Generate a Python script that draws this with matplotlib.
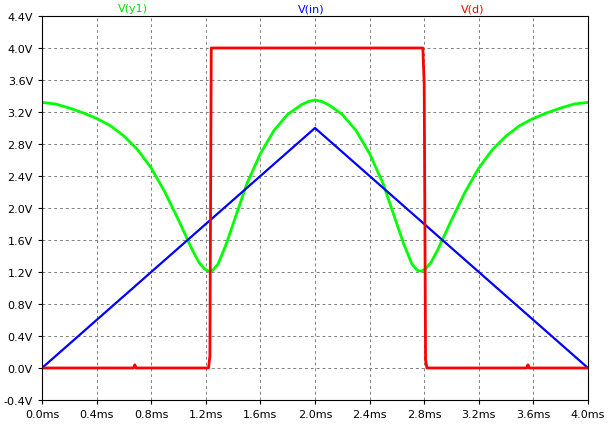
import matplotlib.pyplot as plt
import numpy as np

# time in ms, values in V
t_in = [0.0, 2.0, 4.0]
v_in = [0.0, 3.0, 0.0]

t_d = [0.0, 0.67, 0.68, 0.69, 1.22, 1.23, 1.24, 2.79, 2.80, 2.81, 2.82, 3.55, 3.56, 3.57, 4.0]
v_d = [0.0, 0.0, 0.04, 0.0, 0.0, 0.15, 4.0, 4.0, 3.55, 0.1, 0.0, 0.0, 0.04, 0.0, 0.0]

t_y1 = [0.0, 0.1, 0.2, 0.3, 0.4, 0.5, 0.6, 0.7, 0.8, 0.9, 1.0, 1.1, 1.15, 1.19, 1.22, 1.25, 1.29, 1.35,
        1.4, 1.5, 1.6, 1.7, 1.8, 1.9, 1.95, 2.0,
        2.05, 2.1, 2.2, 2.3, 2.4, 2.5, 2.6, 2.65, 2.71, 2.75, 2.78, 2.81, 2.85, 2.9, 3.0, 3.1, 3.2,
        3.3, 3.4, 3.5, 3.6, 3.7, 3.8, 3.9, 4.0]
v_y1 = [3.32, 3.30, 3.25, 3.19, 3.12, 3.03, 2.9, 2.73, 2.5, 2.2, 1.85, 1.48, 1.32, 1.24, 1.21, 1.22, 1.3, 1.55,
        1.8, 2.3, 2.68, 2.97, 3.17, 3.29, 3.33, 3.35,
        3.33, 3.29, 3.17, 2.97, 2.68, 2.3, 1.8, 1.55, 1.3, 1.22, 1.21, 1.24, 1.32, 1.48, 1.85, 2.2, 2.5,
        2.73, 2.9, 3.03, 3.12, 3.19, 3.25, 3.30, 3.32]

fig = plt.figure(figsize=(6.10, 4.27), dpi=100)
ax = fig.add_axes([42/610, 1-401/427, 546/610, 384/427])

ax.plot(t_y1, v_y1, color='#00ff00', lw=2)
ax.plot(t_in, v_in, color='#0000ff', lw=1.6)
ax.plot(t_d, v_d, color='#ff0000', lw=2)

ax.set_xlim(0, 4)
ax.set_ylim(-0.4, 4.4)
xt = np.arange(0, 4.01, 0.4)
yt = np.arange(-0.4, 4.41, 0.4)
ax.set_xticks(xt)
ax.set_yticks(yt)
ax.set_xticklabels([f"{x:.1f}ms" for x in xt], fontsize=8)
ax.set_yticklabels([f"{y:.1f}V" for y in yt], fontsize=8)
ax.grid(True, color='#808080', ls=(0, (3, 3)), lw=0.7)
ax.tick_params(direction='out', length=3)
for s in ax.spines.values():
    s.set_color('black')

fig.text(133/610, 1-9/427, "V(y1)", color='#00dd00', ha='center', va='center', fontsize=8)
fig.text(311/610, 1-9/427, "V(in)", color='#0000ff', ha='center', va='center', fontsize=8)
fig.text(473/610, 1-9/427, "V(d)", color='#ff0000', ha='center', va='center', fontsize=8)

fig.savefig("out.png", dpi=100)
